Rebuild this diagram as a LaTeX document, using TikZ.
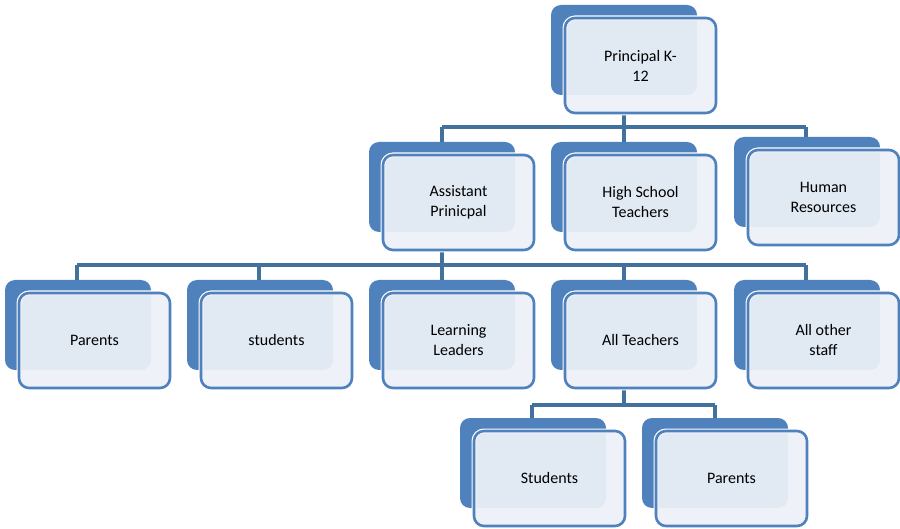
\documentclass[tikz,border=0pt]{standalone}
\usepackage{fontspec}
\setmainfont{Carlito}
\definecolor{bk}{HTML}{4F81BD}
\definecolor{fr}{HTML}{EDF1F8}
\definecolor{ln}{HTML}{41719C}
\begin{document}
\begin{tikzpicture}[x=1pt,y=-1pt,
  backbox/.style={fill=bk,rounded corners=10pt},
  frontbox/.style={fill=fr,fill opacity=0.93,draw=bk,line width=2.6pt,rounded corners=10pt,
     preaction={draw=white,line width=5pt}},
  lbl/.style={font=\fontsize{16}{20}\selectfont,align=center,text=black},
  con/.style={draw=ln,line width=3.5pt}]
\useasboundingbox (0,0) rectangle (900,529);
% helper: \bx{name}{x}{y}{text}
\newcommand\bx[4]{%
  \fill[backbox] (#2,#3) rectangle ++(146,90);
  \draw[frontbox] (#2+14,#3+13) rectangle ++(151,95);
  \node[lbl] (#1) at (#2+89.5,#3+60.5) {#4};
  \coordinate (#1t) at (#2+89.5,#3+13);
  \coordinate (#1b) at (#2+89.5,#3+108);}
% connectors first
\coordinate (b0) at (624,127);
\coordinate (b1) at (442,265);
\coordinate (b2) at (624,405);
\draw[con] (624,113) -- (b0);
\draw[con] (442,127) -- (806,127);
\foreach \x/\y in {442/142,624/142,806/137} \draw[con] (\x,127) -- (\x,\y);
\draw[con] (442,250) -- (b1);
\draw[con] (77,265) -- (806,265);
\foreach \x in {77,259,442,624,806} \draw[con] (\x,265) -- (\x,281);
\draw[con] (624,388) -- (b2);
\draw[con] (532,405) -- (715,405);
\foreach \x in {532,715} \draw[con] (\x,405) -- (\x,419);
\bx{p}{551}{5}{Principal K-\\12}
\bx{a}{369}{142}{Assistant\\Prinicpal}
\bx{h}{551}{142}{High School\\Teachers}
\bx{r}{734}{137}{Human\\Resources}
\bx{pa}{5}{280}{Parents}
\bx{s}{187}{280}{students}
\bx{l}{369}{280}{Learning\\Leaders}
\bx{t}{551}{280}{All Teachers}
\bx{o}{734}{280}{All other\\staff}
\bx{ss}{460}{418}{Students}
\bx{pp}{642}{418}{Parents}
\end{tikzpicture}
\end{document}
